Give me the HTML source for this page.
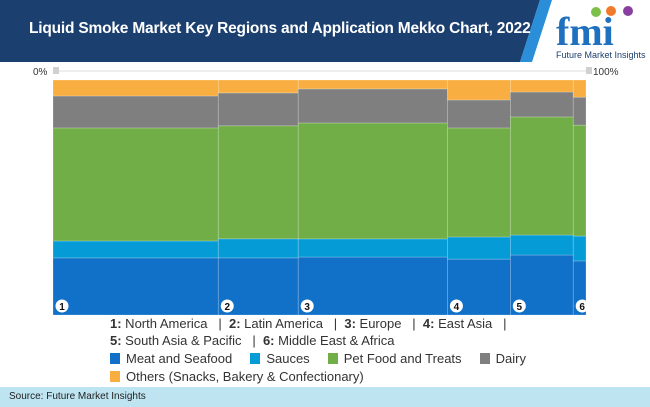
<!DOCTYPE html>
<html><head><meta charset="utf-8"><style>
body{margin:0;width:650px;height:407px;overflow:hidden;background:#fff;font-family:"Liberation Sans",sans-serif;position:relative}
.hdr{position:absolute;left:0;top:0;width:650px;height:62px}
.title{position:absolute;left:29px;top:20px;color:#fff;font-size:15.5px;font-weight:bold;letter-spacing:-0.2px}
.lg{position:absolute;left:110px;font-size:13px;color:#333;white-space:nowrap}
.lg b{font-weight:bold}
.sw{display:inline-block;width:10px;height:11px;vertical-align:-1px;margin-right:6px}
.foot{position:absolute;left:0;top:387px;width:650px;height:20px;background:#bfe4f1;font-size:10px;color:#222}
</style></head><body>
<svg class="hdr" width="650" height="62">
<polygon points="0,0 540,0 520,62 0,62" fill="#1b3f6f"/>
<polygon points="540,0 552,0 532,62 520,62" fill="#2a8fd8"/>
<rect x="552" y="10" width="90" height="32" fill="#fff"/>
<text x="556" y="45" font-family="Liberation Serif" font-size="40" font-weight="bold" fill="#2070c0">fmi</text>
<circle cx="596" cy="12" r="5" fill="#7cc04a"/><circle cx="611" cy="11" r="5" fill="#f07a2a"/><circle cx="628" cy="11" r="5" fill="#8a3fa0"/>
<text x="556" y="58" font-size="9" fill="#1b3f6f">Future Market Insights</text>
</svg>
<div class="title">Liquid Smoke Market Key Regions and Application Mekko Chart, 2022</div>
<svg id="chart" width="650" height="330" style="position:absolute;left:0;top:0"></svg>
<div class="lg" style="top:316px"><b>1:</b> North America &nbsp; | &nbsp;<b>2:</b> Latin America &nbsp; | &nbsp;<b>3:</b> Europe &nbsp; | &nbsp;<b>4:</b> East Asia &nbsp; |</div>
<div class="lg" style="top:333px"><b>5:</b> South Asia &amp; Pacific &nbsp; | &nbsp;<b>6:</b> Middle East &amp; Africa</div>
<div class="lg" style="top:351px">
<span><span class="sw" style="background:#1170c8"></span>Meat and Seafood</span>&nbsp;&nbsp;&nbsp;&nbsp;
<span><span class="sw" style="background:#059bd6"></span>Sauces</span>&nbsp;&nbsp;&nbsp;&nbsp;
<span><span class="sw" style="background:#72ae47"></span>Pet Food and Treats</span>&nbsp;&nbsp;&nbsp;&nbsp;
<span><span class="sw" style="background:#7f7f7f"></span>Dairy</span></div>
<div class="lg" style="top:369px"><span class="sw" style="background:#f8ae41"></span>Others (Snacks, Bakery &amp; Confectionary)</div>
<div class="foot"><span style="position:absolute;left:9px;top:4px">Source: Future Market Insights</span></div>
<script>
const regions=["1","2","3","4","5","6"];
const widths=[31,15,28,11.8,11.8,2.4];
const meat=[24.3,24.3,24.7,23.8,25.5,23.0];
const sauces=[7.2,8.1,7.7,9.4,8.5,10.6];
const petFood=[48.1,48.1,49.4,46.4,50.2,47.2];
const dairy=[13.6,14.0,14.5,11.9,10.6,11.9];
const others=[6.8,5.5,3.8,8.5,5.1,7.3];
const series=[meat,sauces,petFood,dairy,others];
const seriesNames=["meat","sauces","pet-food","dairy","others"];
const colors=["#1170c8","#059bd6","#72ae47","#7f7f7f","#f8ae41"];
const X0=53,X1=586,Y0=315,Y1=80;
const ns="http://www.w3.org/2000/svg";
const svg=document.getElementById('chart');
const totalW=widths.reduce((a,b)=>a+b,0);
const xs=v=>X0+(X1-X0)*v/totalW;
function el(t,a){const e=document.createElementNS(ns,t);for(const k in a)e.setAttribute(k,a[k]);svg.appendChild(e);return e;}
// top axis
let ax=el('line',{x1:X0,y1:71,x2:X1+5,y2:71,stroke:'#ddd','stroke-width':1});


el('rect',{x:X0,y:67,width:6,height:7,fill:'#d0d0d0'});
el('rect',{x:X1,y:67,width:6,height:7,fill:'#d0d0d0'});
let t0=el('text',{x:33,y:75,'font-size':10,fill:'#333'});t0.textContent='0%';


let t1=el('text',{x:593,y:75,'font-size':10,fill:'#333'});t1.textContent='100%';


let cum=0;
regions.forEach((r,i)=>{
  const xa=xs(cum),xb=xs(cum+widths[i]);cum+=widths[i];
  const tot=series.reduce((s,a)=>s+a[i],0);
  let acc=0;
  series.forEach((s,j)=>{
    const ya=Y0-(Y0-Y1)*acc/tot;acc+=s[i];const yb=Y0-(Y0-Y1)*acc/tot;
    const rc=el('rect',{x:xa,y:yb,width:xb-xa,height:ya-yb,fill:colors[j],stroke:'#ffffff','stroke-opacity':0.35,'stroke-width':0.6});
    
    
  });
  const c=el('circle',{cx:xa+9,cy:306,r:6.5,fill:'#fff'});
  
  
  const tx=el('text',{x:xa+9,y:310,'font-size':10,'font-weight':'bold','text-anchor':'middle',fill:'#111'});
  tx.textContent=r;
  
  
});
</script>
</body></html>
